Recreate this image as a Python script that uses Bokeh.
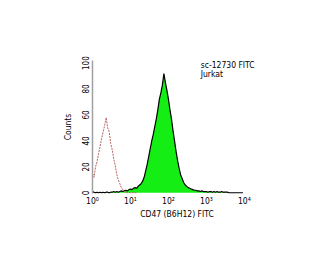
import numpy as np
from bokeh.plotting import figure
from bokeh.models import FixedTicker, Label, Range1d
from bokeh.embed import file_html
from bokeh.resources import INLINE

# log10 fluorescence bin positions (decades), 0.04 decade per bin
bin_log10 = [round(i * 0.04, 2) for i in range(100)]

# Isotype control (red dashed) counts per bin
control_counts = [15, 12, 20, 24, 30, 36, 42, 47, 52, 58,
                  50, 47, 38, 33, 26, 21, 14, 10, 7, 4,
                  2.5, 1, 0.5, 0, 0.5, 0, 0, 0.5, 0, 0] + [0] * 70

# CD47 (B6H12) FITC stained (green) counts per bin
stained_counts = [1, 0.5, 0, 0.5, 0, 0.5, 0, 0.5, 0, 0.5,
                  0.5, 0, 0.5, 0.5, 1, 0.5, 1, 0.5, 1, 1.5,
                  1, 1.5, 2, 1.5, 2.5, 3, 2.5, 3.5, 4, 3.5,
                  5, 6, 7, 9, 12, 17, 22, 28, 34, 40,
                  45, 51, 57, 64, 72, 77, 83, 92, 85, 79,
                  72, 64, 57, 48, 40, 32, 25, 19, 14, 11,
                  8, 6, 5, 4, 3.5, 3, 2.5, 2, 2, 1.5,
                  1.5, 1, 1.5, 1, 1, 1, 0.5, 1, 1, 0.5,
                  1, 0.5, 1, 0.5, 0.5, 1, 0.5, 0.5, 0.5, 0.5,
                  0, 0, 0, 0, 0, 0, 0, 0, 0, 0]

x_tick_values = [1, 10, 100, 1000, 10000]
x_tick_labels = ["10\u2070", "10\u00b9", "10\u00b2", "10\u00b3", "10\u2074"]
y_tick_values = [0, 20, 40, 60, 80, 100]

title_lines = ["sc-12730 FITC", "Jurkat"]
x_label = "CD47 (B6H12) FITC"
y_label = "Counts"

FONT = "DejaVu Sans Condensed"

xs = [10 ** v for v in bin_log10]

p = figure(width=320, height=275, x_axis_type="log",
           x_range=Range1d(1, 10 ** 4.45), y_range=Range1d(-0.5, 102),
           output_backend="svg", toolbar_location=None,
           min_border_left=92, min_border_right=59,
           min_border_top=60, min_border_bottom=82)
p.outline_line_color = None
p.xgrid.grid_line_color = None
p.ygrid.grid_line_color = None
p.background_fill_color = "white"

# stained histogram
p.varea(x=xs, y1=[0] * len(xs), y2=stained_counts, fill_color="#14ee14")
p.line(x=xs, y=stained_counts, line_color="black", line_width=1.2)

# control histogram
p.line(x=xs[:30], y=control_counts[:30], line_color="#b86464",
       line_width=1, line_dash="2 1")

# axes
xa = p.xaxis[0]
xa.ticker = FixedTicker(ticks=x_tick_values)
xa.major_label_overrides = {v: l for v, l in zip(x_tick_values, x_tick_labels)}
xa.axis_line_color = None
xa.major_tick_line_color = None
xa.minor_tick_line_color = None
xa.major_tick_out = 0
xa.major_tick_in = 0
xa.minor_tick_out = 0
xa.minor_tick_in = 0
xa.major_label_standoff = 2
xa.major_label_text_font = FONT
xa.major_label_text_font_size = "8.5px"
xa.major_label_text_color = "black"
xa.axis_label = x_label
xa.axis_label_text_font = FONT
xa.axis_label_text_font_size = "8.5px"
xa.axis_label_text_font_style = "normal"
xa.axis_label_text_color = "black"
xa.axis_label_standoff = 0

ya = p.yaxis[0]
ya.ticker = FixedTicker(ticks=y_tick_values)
ya.axis_line_color = "#a0a0a0"
ya.axis_line_width = 1.5
ya.major_tick_line_color = None
ya.minor_tick_line_color = None
ya.major_tick_out = 0
ya.major_tick_in = 0
ya.minor_tick_out = 0
ya.minor_tick_in = 0
ya.major_label_orientation = "vertical"
ya.major_label_standoff = 3
ya.major_label_text_font = FONT
ya.major_label_text_font_size = "8px"
ya.major_label_text_color = "black"
ya.axis_label = y_label
ya.axis_label_text_font = FONT
ya.axis_label_text_font_size = "8.5px"
ya.axis_label_text_font_style = "normal"
ya.axis_label_text_color = "black"
ya.axis_label_standoff = 7

for i, t in enumerate(title_lines):
    p.add_layout(Label(x=10 ** 2.85, y=98.5 - 6.6 * i, text=t,
                       text_font=FONT, text_font_size="8.5px",
                       text_baseline="middle", text_align="left",
                       text_color="black", level="overlay"))

open("out.html", "w").write(file_html(p, INLINE))
